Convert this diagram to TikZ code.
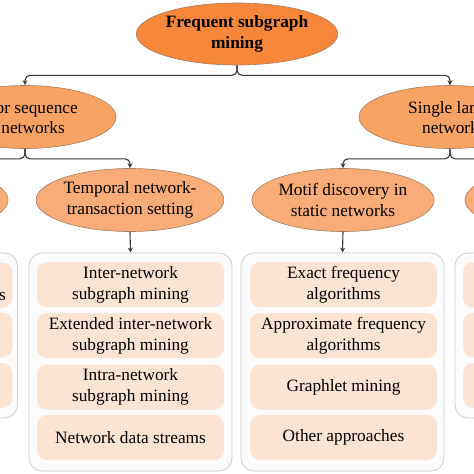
\documentclass[tikz,border=0pt]{standalone}
\usepackage{fontspec}
\setmainfont{Liberation Serif}
\usetikzlibrary{shapes.geometric, arrows.meta}

\definecolor{arTop}{RGB}{247,135,58}
\definecolor{arMid}{RGB}{248,162,100}
\definecolor{arLow}{RGB}{249,172,120}
\definecolor{bordo}{RGB}{168,124,92}
\definecolor{pesca}{RGB}{252,228,212}
\definecolor{grigioBox}{RGB}{205,205,205}
\definecolor{freccia}{RGB}{58,58,58}

\begin{document}
\begin{tikzpicture}[x=1pt, y=-1pt,
    font=\fontsize{17.3}{21}\selectfont,
    ell/.style={ellipse, draw=bordo, line width=0.6pt, minimum width=182pt, minimum height=63pt, inner sep=0pt, align=center},
    cont/.style={draw=grigioBox, fill=white!98.5!black, line width=0.8pt, rounded corners=13pt},
    voce/.style={fill=pesca, rounded corners=10pt, minimum width=187pt, minimum height=45pt, inner sep=0pt, align=center},
    conn/.style={draw=freccia, line width=1.1pt, rounded corners=5pt},
    tip/.style={-{Stealth[length=5pt, width=5pt]}}]
    % Cornice
    \useasboundingbox (0,0) rectangle (474,474);
    \fill[white] (0,0) rectangle (474,474);
    \clip (0,0) rectangle (474,474);

    % Radice
    \node[ell, fill=arTop, minimum height=62pt] (fsm) at (237,34) {\textbf{Frequent subgraph}\\\textbf{mining}};

    % Primo livello
    \node[ell, fill=arMid] (gsn) at (25,117) {};
    \node[anchor=base east, inner sep=0pt] (gsnA) at (78,113) {or sequence};
    \node[anchor=base east, inner sep=0pt] (gsnB) at (65,133) {networks};
    \node[ell, fill=arMid] (sln) at (450,117) {};
    \node[anchor=base west, inner sep=0pt] (slnA) at (408,113) {Single lar};
    \node[anchor=base west, inner sep=0pt] (slnB) at (422,133) {network};

    % Secondo livello
    \node[ell, fill=arLow] (stat) at (-83,200) {};
    \node[ell, fill=arLow] (tns) at (130,200) {Temporal network-\\transaction setting};
    \node[ell, fill=arLow] (mds) at (343,200) {Motif discovery in\\static networks};
    \node[ell, fill=arLow] (dyn) at (556,200) {};

    % Contenitori
    \node[cont, minimum width=203pt, minimum height=165pt] (boxL) at (-84,335.5) {};
    \node[cont, minimum width=203pt, minimum height=218pt] (boxT) at (130.5,362) {};
    \node[cont, minimum width=203pt, minimum height=218pt] (boxM) at (342.5,362) {};
    \node[cont, minimum width=203pt, minimum height=165pt] (boxR) at (556.5,335.5) {};

    % Voci a sinistra (tagliate)
    \node[voce] (l1) at (-81,285) {};
    \node[voce] (l2) at (-81,335) {};
    \node[voce] (l3) at (-81,385.5) {};
    \node[anchor=base east, inner sep=0pt] (l1s) at (6,300) {s};

    % Voci rete temporale
    \node[voce] (inter) at (130.5,284.5) {Inter-network\\subgraph mining};
    \node[voce] (ext) at (130.5,335.5) {Extended inter-network\\subgraph mining};
    \node[voce] (intra) at (130.5,387) {Intra-network\\subgraph mining};
    \node[voce] (stream) at (130.5,437.5) {Network data streams};

    % Voci motif discovery
    \node[voce] (exact) at (343.5,284.5) {Exact frequency\\algorithms};
    \node[voce] (approx) at (343.5,335.5) {Approximate frequency\\algorithms};
    \node[voce] (graphlet) at (343.5,387) {Graphlet mining};
    \node[voce] (other) at (343.5,437.5) {Other approaches};

    % Voci a destra (tagliate)
    \node[voce] (r1) at (556.5,285) {};
    \node[voce] (r2) at (556.5,335) {};
    \node[voce] (r3) at (556.5,385.5) {};

    % Frecce
    \draw[conn, tip] (fsm.south) -- ++(0,10) -| (gsn.north);
    \draw[conn, tip] (fsm.south) -- ++(0,10) -| (sln.north);
    \draw[conn, tip] (gsn.south) -- ++(0,10) -| (stat.north);
    \draw[conn, tip] (gsn.south) -- ++(0,10) -| (tns.north);
    \draw[conn, tip] (sln.south) -- ++(0,10) -| (mds.north);
    \draw[conn, tip] (sln.south) -- ++(0,10) -| (dyn.north);
    \draw[conn, tip] (stat.south) -- (boxL.north);
    \draw[conn, tip] (tns.south) -- (boxT.north);
    \draw[conn, tip] (mds.south) -- (boxM.north);
    \draw[conn, tip] (dyn.south) -- (boxR.north);
\end{tikzpicture}
\end{document}
